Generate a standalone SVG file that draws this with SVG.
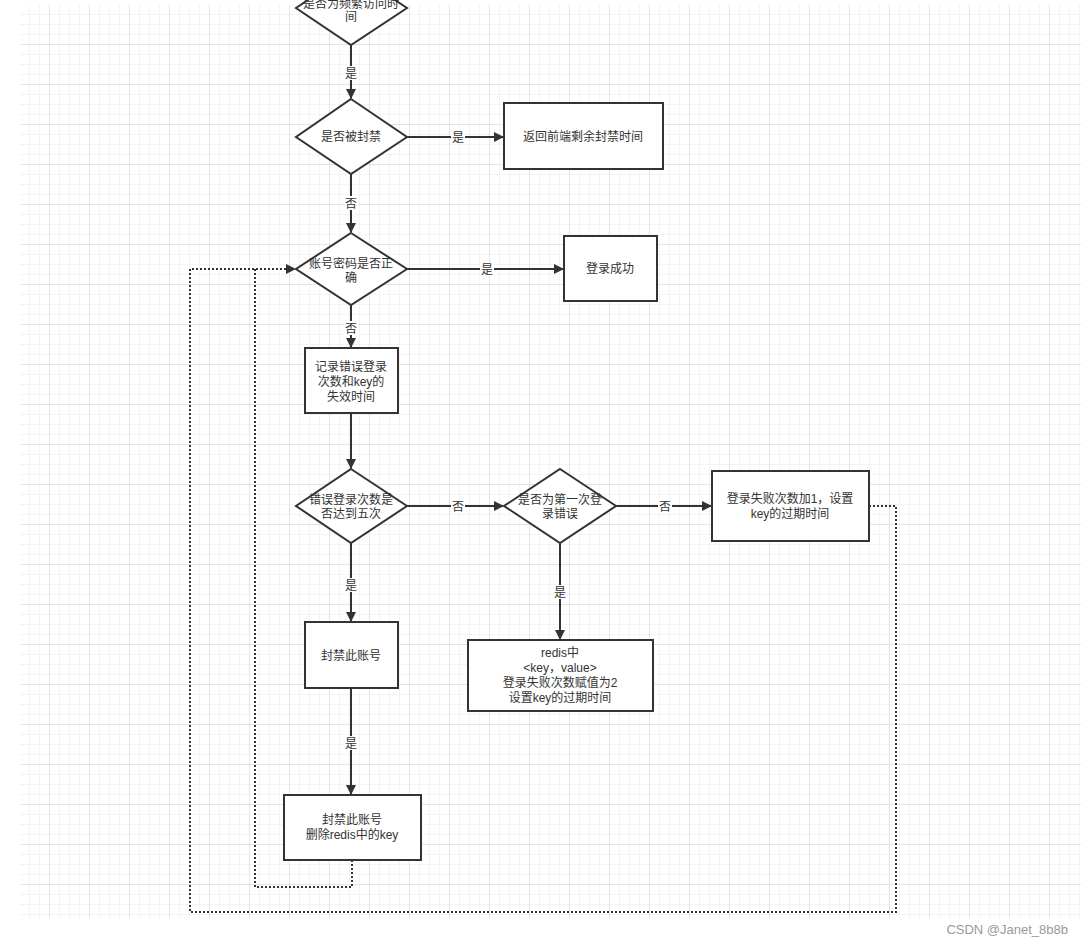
<svg xmlns="http://www.w3.org/2000/svg" width="1081" height="946" viewBox="0 0 1081 946">
<defs>
<pattern id="g" width="10" height="10" patternUnits="userSpaceOnUse" x="0" y="5"><path d="M10 0V10M0 10H10" fill="none" stroke="#e8e8e8" stroke-width="1"/></pattern>
<pattern id="G" width="40" height="40" patternUnits="userSpaceOnUse" x="10" y="5"><path d="M40 0V40M0 40H40" fill="none" stroke="#d4d4d4" stroke-width="1"/></pattern>
<marker id="a" markerWidth="10" markerHeight="10" refX="9" refY="5" orient="auto" markerUnits="userSpaceOnUse"><path d="M0 0L10 5L0 10Z" fill="#333"/></marker>
</defs>
<style>
.n{fill:#fff;stroke:#333;stroke-width:2}
.t{font-family:"Liberation Sans","Noto Sans CJK SC",sans-serif;font-size:12px;fill:#333;text-anchor:middle}
.l{stroke:#333;stroke-width:2;fill:none}
.d{stroke:#333;stroke-width:2;fill:none;stroke-dasharray:2 2}
.lb{fill:#fff}
</style>
<rect width="1081" height="946" fill="#fff"/>
<rect x="20" y="5" width="1061" height="913" fill="url(#g)"/>
<rect x="20" y="5" width="1061" height="913" fill="url(#G)"/>
<g id="connectors">
<path class="l" d="M351 45V98" marker-end="url(#a)"/>
<path class="l" d="M407 137H503" marker-end="url(#a)"/>
<path class="l" d="M351 174V232" marker-end="url(#a)"/>
<path class="l" d="M407 269H563" marker-end="url(#a)"/>
<path class="l" d="M351 305V347" marker-end="url(#a)"/>
<path class="l" d="M351 413V468" marker-end="url(#a)"/>
<path class="l" d="M407 506H503" marker-end="url(#a)"/>
<path class="l" d="M616 506H711" marker-end="url(#a)"/>
<path class="l" d="M560 543V639" marker-end="url(#a)"/>
<path class="l" d="M351 543V621" marker-end="url(#a)"/>
<path class="l" d="M351 688V794" marker-end="url(#a)"/>
<path class="d" d="M352 860V887H255V269"/>
<path class="d" d="M869 506H896V912H190V269H295" marker-end="url(#a)"/>
<g class="t">
<rect class="lb" x="344" y="66" width="14" height="14"/><text x="351" y="78">是</text>
<rect class="lb" x="451" y="130" width="14" height="14"/><text x="458" y="142">是</text>
<rect class="lb" x="344" y="196" width="14" height="14"/><text x="351" y="208">否</text>
<rect class="lb" x="480" y="262" width="14" height="14"/><text x="487" y="274">是</text>
<rect class="lb" x="344" y="321" width="14" height="14"/><text x="351" y="333">否</text>
<rect class="lb" x="451" y="499" width="14" height="14"/><text x="458" y="511">否</text>
<rect class="lb" x="658" y="499" width="14" height="14"/><text x="665" y="511">否</text>
<rect class="lb" x="553" y="585" width="14" height="14"/><text x="560" y="597">是</text>
<rect class="lb" x="344" y="578" width="14" height="14"/><text x="351" y="590">是</text>
<rect class="lb" x="344" y="736" width="14" height="14"/><text x="351" y="748">是</text>
</g>
</g>
<g id="n1"><path class="n" d="M351 -29L407 8L351 45L296 8Z"/><text class="t" x="351" y="8">是否为频繁访问时</text><text class="t" x="351" y="21">间</text></g>
<g id="n2"><path class="n" d="M351 99L407 137L351 174L296 137Z"/><text class="t" x="351" y="141">是否被封禁</text></g>
<g id="n3"><rect class="n" x="504" y="103" width="159" height="66"/><text class="t" x="583" y="141">返回前端剩余封禁时间</text></g>
<g id="n4"><path class="n" d="M351 233L407 269L351 305L296 269Z"/><text class="t" x="351" y="268">账号密码是否正</text><text class="t" x="351" y="282">确</text></g>
<g id="n5"><rect class="n" x="564" y="236" width="93" height="65"/><text class="t" x="610" y="273">登录成功</text></g>
<g id="n6"><rect class="n" x="305" y="348" width="93" height="65"/><text class="t" x="351" y="371">记录错误登录</text><text class="t" x="351" y="386">次数和key的</text><text class="t" x="351" y="401">失效时间</text></g>
<g id="n7"><path class="n" d="M351 469L407 506L351 543L296 506Z"/><text class="t" x="351" y="504">错误登录次数是</text><text class="t" x="351" y="518">否达到五次</text></g>
<g id="n8"><path class="n" d="M560 469L616 506L560 543L504 506Z"/><text class="t" x="560" y="504">是否为第一次登</text><text class="t" x="560" y="518">录错误</text></g>
<g id="n9"><rect class="n" x="712" y="471" width="157" height="70"/><text class="t" x="790" y="503">登录失败次数加1，设置</text><text class="t" x="790" y="518">key的过期时间</text></g>
<g id="n10"><rect class="n" x="468" y="640" width="185" height="71"/><text class="t" x="560" y="657">redis中</text><text class="t" x="560" y="672">&lt;key，value&gt;</text><text class="t" x="560" y="687">登录失败次数赋值为2</text><text class="t" x="560" y="702">设置key的过期时间</text></g>
<g id="n11"><rect class="n" x="305" y="622" width="93" height="66"/><text class="t" x="351" y="660">封禁此账号</text></g>
<g id="n12"><rect class="n" x="284" y="795" width="137" height="65"/><text class="t" x="352" y="824">封禁此账号</text><text class="t" x="352" y="839">删除redis中的key</text></g>
<text x="1068" y="934" style="font-family:'Liberation Sans',sans-serif;font-size:13px;fill:#999;text-anchor:end">CSDN @Janet_8b8b</text>
</svg>
